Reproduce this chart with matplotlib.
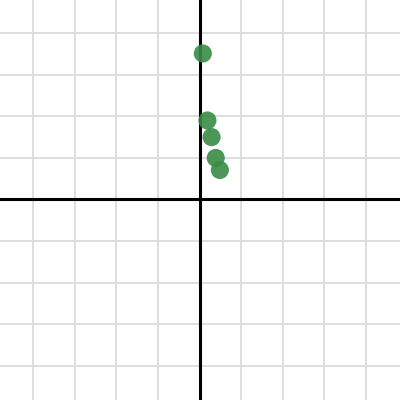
import numpy as np
import matplotlib.pyplot as plt

# points
x_vals = [0.08, 0.19, 0.29, 0.39, 0.49]
y_vals = [3.51, 1.90, 1.50, 1.00, 0.71]

unit = 41.6  # pixels per grid unit
fig = plt.figure(figsize=(4, 4), dpi=100)
ax = fig.add_axes([0, 0, 1, 1])
ax.set_xlim(-199.5 / unit, (400 - 199.5) / unit)
ax.set_ylim(-(400 - 199.5) / unit, 199.5 / unit)

for g in np.arange(-5, 6):
    if g != 0:
        ax.axvline(g, color='#dedede', lw=1.4, zorder=1)
        ax.axhline(g, color='#dedede', lw=1.4, zorder=1)
ax.axvline(0, color='black', lw=2.2, zorder=2)
ax.axhline(0, color='black', lw=2.2, zorder=2)

ax.scatter(x_vals, y_vals, s=170, color='#388c46', alpha=0.9, edgecolors='none', zorder=3)

ax.set_xticks([])
ax.set_yticks([])
for sp in ax.spines.values():
    sp.set_visible(False)

fig.savefig('out.png', dpi=100)
